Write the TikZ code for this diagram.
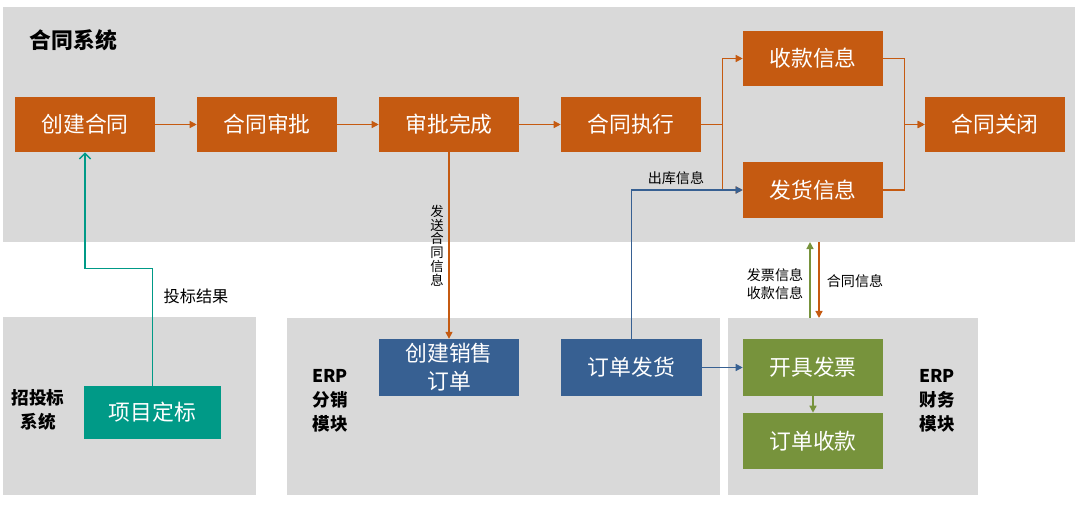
\documentclass[tikz,border=0pt]{standalone}
\usepackage{fontspec}
\setmainfont{Noto Sans CJK SC}
\usepackage{xcolor}
\usetikzlibrary{arrows.meta,positioning,calc}

\definecolor{panelgray}{HTML}{D9D9D9}
\definecolor{ctrOrange}{HTML}{C55A11}
\definecolor{erpBlue}{HTML}{376092}
\definecolor{finGreen}{HTML}{77933C}
\definecolor{bidTeal}{HTML}{009A87}

\begin{document}
\begin{tikzpicture}[x=0.025cm, y=-0.025cm,
    panel/.style={fill=panelgray, inner sep=0pt, outer sep=0pt},
    flowbox/.style={minimum width=3.5cm, minimum height=1.4cm, inner sep=0pt,
      text=white, align=center, font=\fontsize{15.5}{20}\selectfont},
    orangebox/.style={flowbox, fill=ctrOrange, minimum height=1.375cm},
    bluebox/.style={flowbox, fill=erpBlue, minimum height=1.42cm},
    greenbox/.style={flowbox, fill=finGreen},
    tealbox/.style={flowbox, fill=bidTeal, minimum width=3.425cm, minimum height=1.325cm},
    grouplabel/.style={font=\fontsize{12.5}{17}\selectfont\bfseries, align=center},
    smalllabel/.style={text=black, font=\fontsize{10}{12}\selectfont, align=right},
    oarrow/.style={ctrOrange, line width=1pt, -{Triangle[length=5pt,width=5pt]}},
    barrow/.style={erpBlue, line width=1pt, -{Triangle[length=5pt,width=5pt]}},
    garrow/.style={finGreen, line width=1pt, -{Triangle[length=5pt,width=5pt]}},
    tarrow/.style={bidTeal, line width=1pt, -{Straight Barb[length=4pt,width=8pt]}}]
    \useasboundingbox (0,0) rectangle (1080,506);

    % panels
    \node[panel, minimum width=26.8cm, minimum height=5.875cm] (ctrsys) at (539,124.5) {};
    \node[panel, minimum width=6.325cm, minimum height=4.45cm] (bidsys) at (129.5,406) {};
    \node[panel, minimum width=10.825cm, minimum height=4.425cm] (distsys) at (503.5,406.5) {};
    \node[panel, minimum width=6.25cm, minimum height=4.425cm] (finsys) at (853,406.5) {};

    \node[anchor=west, font=\fontsize{15.5}{18}\selectfont\bfseries] (ctrtitle) at (25,40) {合同系统};
    \node[grouplabel] (bidtitle) at (38,410) {招投标\\系统};
    \node[grouplabel] (disttitle) at (330,401) {ERP\\分销\\模块};
    \node[grouplabel] (fintitle) at (937,401) {ERP\\财务\\模块};

    % contract flow
    \node[orangebox] (create) at (85,124.5) {创建合同};
    \node[orangebox] (review) at (267,124.5) {合同审批};
    \node[orangebox] (approved) at (449,124.5) {审批完成};
    \node[orangebox] (execute) at (631,124.5) {合同执行};
    \node[orangebox] (payinfo) at (813,58.5) {收款信息};
    \node[orangebox] (shipinfo) at (813,190) {发货信息};
    \node[orangebox] (close) at (995,124.5) {合同关闭};

    % other systems
    \node[tealbox] (award) at (152.5,412.5) {项目定标};
    \node[bluebox] (salesorder) at (449,367.5) {创建销售\\订单};
    \node[bluebox] (ship) at (631.5,367.5) {订单发货};
    \node[greenbox] (invoice) at (813,367.5) {开具发票};
    \node[greenbox] (receipt) at (813,441) {订单收款};

    \draw[oarrow] (create) -- (review);
    \draw[oarrow] (review) -- (approved);
    \draw[oarrow] (approved) -- (execute);
    \draw[oarrow] (execute.east) -- ++(21,0) |- (payinfo.west);
    \draw[oarrow] (execute.east) -- ++(21,0) |- (shipinfo.west);
    \draw[oarrow] (payinfo.east) -- ++(21,0) |- (close.west);
    \draw[oarrow] (shipinfo.east) -- ++(21,0) |- (close.west);

    \draw[tarrow] (award.north) -- ++(0,-117) -| (create.south);
    \node[font=\fontsize{11.5}{14}\selectfont] (bidresult) at (196,296) {投标结果};

    \draw[oarrow] (approved.south) -- node[left=0pt, text=black, font=\fontsize{9.5}{9.8}\selectfont, align=center]
      {发\\送\\合\\同\\信\\息} (salesorder.north);
    \draw[barrow] (ship.north) |- node[above, pos=0.7, text=black, font=\fontsize{10}{12}\selectfont] {出库信息} (shipinfo.west);
    \draw[barrow] (ship) -- (invoice);
    \draw[garrow] (invoice) -- (receipt);

    % links between finance and contract system
    \coordinate (upx) at (810,0);
    \coordinate (downx) at (819,0);
    \draw[garrow] (finsys.north -| upx) -- (ctrsys.south -| upx);
    \draw[oarrow] (ctrsys.south -| downx) -- (finsys.north -| downx);
    \node[smalllabel, font=\fontsize{10}{13}\selectfont] (finlabel) at (775,284) {发票信息\\收款信息};
    \node[smalllabel] (ctrlabel) at (855,281) {合同信息};
\end{tikzpicture}
\end{document}
